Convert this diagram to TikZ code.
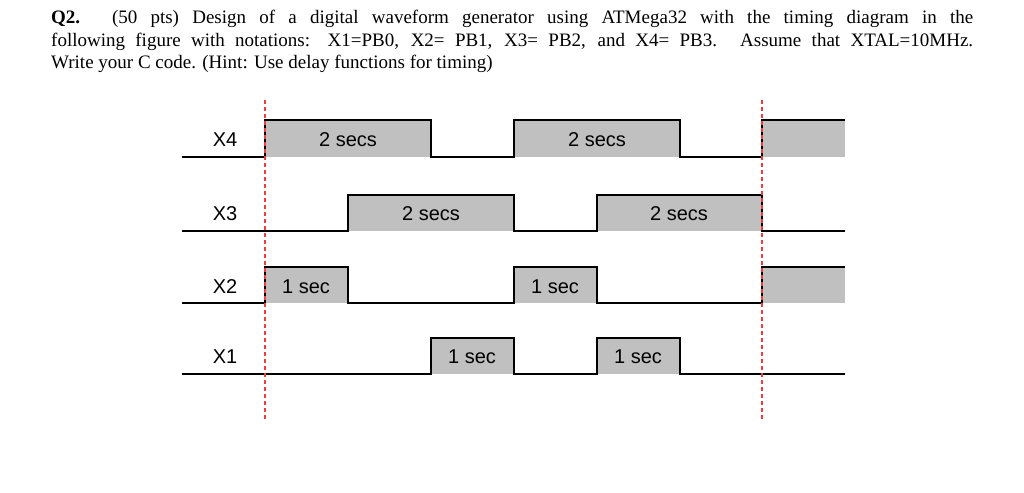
\documentclass[tikz,border=0pt]{standalone}
\usepackage{fontspec}
\setmainfont{Liberation Serif}
\newfontfamily\arialf{Liberation Sans}
\begin{document}
\begin{tikzpicture}[x=1pt,y=-1pt,
  wave/.style={line width=2.2pt,line join=miter},
  hi/.style={fill={rgb,255:red,192;green,192;blue,192}},
  lbl/.style={font=\arialf\fontsize{20}{22}\selectfont},
  marker/.style={draw={rgb,255:red,240;green,60;blue,60},dash pattern=on 4pt off 3pt,line width=1.2pt}]
\useasboundingbox (0,0) rectangle (1024,492);
\node[anchor=north west,text width=922pt,align=justify,inner sep=0pt,font=\fontsize{19}{22.5}\selectfont] (hdr) at (51,10)
 {\textbf{Q2.} (50 pts) Design of a digital waveform generator using ATMega32 with the timing diagram in the\linebreak following figure with notations: X1=PB0, X2= PB1, X3= PB2, and X4= PB3. Assume that XTAL=10MHz.\linebreak Write your C code. (Hint: Use delay functions for timing)};
% shaded high intervals
\foreach \a/\b/\lo/\hh in {265/431/157/120,514/680/157/120,762/845/157/120,
  348/514/231/195,597/762/231/195,
  265/348/303/267,514/597/303/267,762/845/303/267,
  431/514/374/338,597/680/374/338}
  \fill[hi] (\a,\hh) rectangle (\b,\lo);
% waveforms
\draw[wave] (182,157)--(265,157)--(265,120)--(431,120)--(431,157)--(514,157)--(514,120)--(680,120)--(680,157)--(762,157)--(762,120)--(845,120);
\draw[wave] (182,231)--(348,231)--(348,195)--(514,195)--(514,231)--(597,231)--(597,195)--(762,195)--(762,231)--(845,231);
\draw[wave] (182,303)--(265,303)--(265,267)--(348,267)--(348,303)--(514,303)--(514,267)--(597,267)--(597,303)--(762,303)--(762,267)--(845,267);
\draw[wave] (182,374)--(431,374)--(431,338)--(514,338)--(514,374)--(597,374)--(597,338)--(680,338)--(680,374)--(845,374);
% markers
\coordinate (m1a) at (265,100); \coordinate (m1b) at (265,420);
\coordinate (m2a) at (762,100); \coordinate (m2b) at (762,420);
\draw[marker] (m1a)--(m1b);
\draw[marker] (m2a)--(m2b);
% labels
\node[lbl] (l4) at (225,140) {X4};
\node[lbl] (l3) at (225,214) {X3};
\node[lbl] (l2) at (225,287) {X2};
\node[lbl] (l1) at (225,357) {X1};
\node[lbl] (s1) at (348,140) {2 secs};
\node[lbl] (s2) at (597,140) {2 secs};
\node[lbl] (s3) at (431,214) {2 secs};
\node[lbl] (s4) at (679,214) {2 secs};
\node[lbl] (s5) at (306,287) {1 sec};
\node[lbl] (s6) at (555,287) {1 sec};
\node[lbl] (s7) at (472,357) {1 sec};
\node[lbl] (s8) at (638,357) {1 sec};
\end{tikzpicture}
\end{document}
